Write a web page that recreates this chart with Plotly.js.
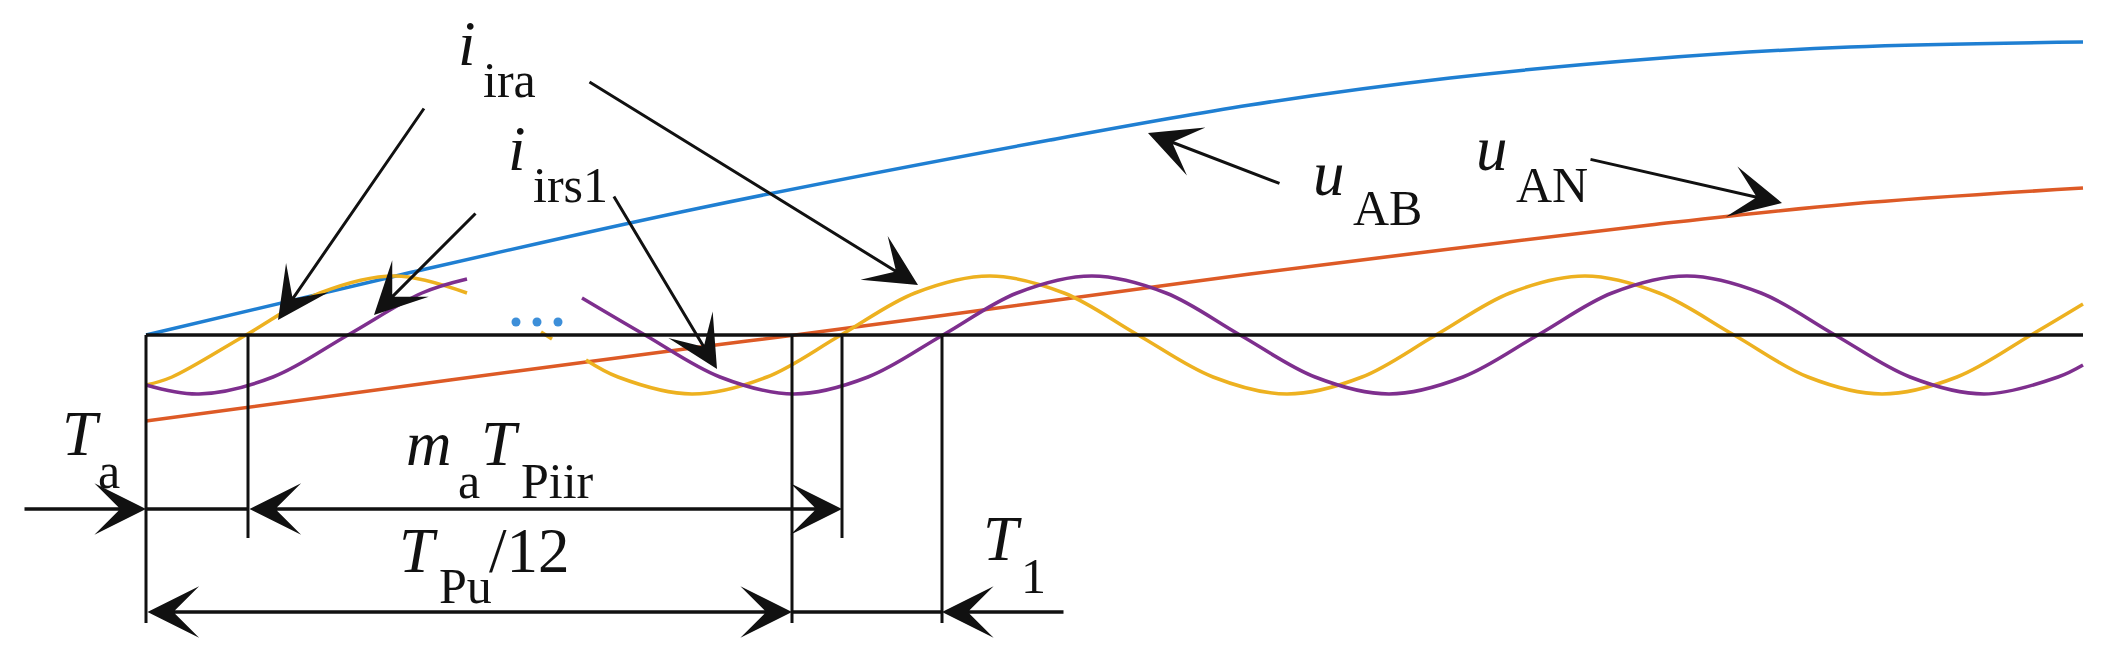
<!DOCTYPE html>
<html>
<head>
<meta charset="utf-8">
<script src="https://cdn.plot.ly/plotly-3.0.1.min.js"></script>
<style>
  html, body { margin: 0; padding: 0; background: #ffffff; }
  #chart { width: 2103px; height: 672px; }
</style>
</head>
<body>
<div id="chart"></div>
<script>
// ---- data (x: time position, y: amplitude relative to the reference axis) ----
const uABx = [146, 400, 700, 1050, 1250, 1450, 1650, 1850, 2083];
const uABy = [0, 60, 127, 195, 230, 257, 276, 288, 293];

const uANx = [146, 450, 700, 795, 1050, 1250, 1450, 1650, 1850, 2083];
const uANy = [-86, -45, -12, 0, 34, 61, 86, 110, 131, 147];

const iraX1 = [146, 172, 246, 320, 395, 467];
const iraY1 = [-50, -42, 0, 42, 59, 42];
const iraX2 = [586, 618, 692, 767, 841, 915, 990, 1064, 1138, 1213, 1287, 1362, 1436, 1510, 1585, 1659, 1734, 1808, 1882, 1957, 2031, 2083];
const iraY2 = [-25, -42, -59, -42, 0, 42, 59, 42, 0, -42, -59, -42, 0, 42, 59, 42, 0, -42, -59, -42, 0, 31];

const irs1X1 = [146, 199, 273, 348, 422, 467];
const irs1Y1 = [-50, -59, -42, 0, 42, 56];
const irs1X2 = [582, 645, 720, 794, 868, 943, 1017, 1092, 1166, 1240, 1315, 1389, 1463, 1538, 1612, 1687, 1761, 1835, 1910, 1984, 2058, 2083];
const irs1Y2 = [37, 0, -42, -59, -42, 0, 42, 59, 42, 0, -42, -59, -42, 0, 42, 59, 42, 0, -42, -59, -42, -30];

const strayX = [541, 552];
const strayY = [3, -4];

const ellipsisX = [516, 537, 558];
const ellipsisY = [13, 13, 13];

// time markers
const tStart = 146, tIrs = 248, tPu = 792, tPiir = 842, tEnd = 942;

const BLUE = '#1f7fd2', ORANGE = '#dd5a26', YELLOW = '#edb120', PURPLE = '#7e2f8e', INK = '#111111';

function line(x, y, color) {
  return { x: x, y: y, type: 'scatter', mode: 'lines', hoverinfo: 'skip',
           line: { color: color, width: 3.5, shape: 'spline', smoothing: 1 } };
}

const traces = [
  line(uABx, uABy, BLUE),
  line(uANx, uANy, ORANGE),
  line(iraX1, iraY1, YELLOW),
  line(iraX2, iraY2, YELLOW),
  line(strayX, strayY, YELLOW),
  line(irs1X1, irs1Y1, PURPLE),
  line(irs1X2, irs1Y2, PURPLE),
  { x: ellipsisX, y: ellipsisY, type: 'scatter', mode: 'markers', hoverinfo: 'skip',
    marker: { color: '#3d8fd9', size: 9, symbol: 'circle' } }
];

// ---- decoration: dimension lines ----
const rowA = -174, rowB = -277;
function seg(x0, y0, x1, y1, w) {
  return { type: 'line', xref: 'x', yref: 'y', x0: x0, y0: y0, x1: x1, y1: y1,
           line: { color: INK, width: w } };
}
const shapes = [
  seg(tStart, 0, 2083, 0, 3.5),
  seg(tStart, 0, tStart, -288, 3),
  seg(tIrs, 0, tIrs, -203, 3),
  seg(tPu, 0, tPu, -288, 3),
  seg(tPiir, 0, tPiir, -203, 3),
  seg(tEnd, 0, tEnd, -288, 3),
  seg(tStart, rowA, tIrs, rowA, 3.5),
  seg(tPu, rowB, tEnd, rowB, 3.5)
];

function arrow(x, y, ax, ay, both, w) {
  const width = w || 3.5;
  const size = 8.6 / width;
  const a = { x: x, y: y, ax: ax, ay: ay, xref: 'x', yref: 'y', axref: 'x', ayref: 'y',
              text: '', showarrow: true, arrowhead: 3, arrowsize: size, arrowwidth: width,
              arrowcolor: INK, standoff: 0, startstandoff: 0 };
  if (both) { a.arrowside = 'end+start'; a.startarrowhead = 3; a.startarrowsize = size; }
  return a;
}

function txt(x, y, text, size) {
  return { x: x, y: y, xref: 'x', yref: 'y', text: text, showarrow: false,
           xanchor: 'left', yanchor: 'middle', borderpad: 0,
           font: { family: 'Liberation Serif, Times New Roman, serif', size: size, color: INK } };
}

const MAIN = 63, SUB = 50;
const annotations = [
  // dimension arrows
  arrow(tStart, rowA, 23, rowA, false),
  arrow(tPiir, rowA, tIrs, rowA, true),
  arrow(tPu, rowB, tStart, rowB, true),
  arrow(tEnd, rowB, 1065, rowB, false),
  // label pointers
  arrow(278, 15, 425, 228, false, 3),
  arrow(374, 20, 477, 123, false, 3),
  arrow(918, 50, 588, 254, false, 3),
  arrow(717, -34, 613, 140, false, 3),
  arrow(1148, 202, 1281, 151, false, 3),
  arrow(1782, 132, 1589, 176, false, 3),
  // labels
  txt(457, 291, '<i>i</i>', MAIN), txt(482, 255, 'ira', SUB),
  txt(507, 186, '<i>i</i>', MAIN), txt(532, 150, 'irs1', SUB),
  txt(1312, 161, '<i>u</i>', MAIN), txt(1352, 127, 'AB', SUB),
  txt(1475, 186, '<i>u</i>', MAIN), txt(1515, 150, 'AN', SUB),
  txt(61, -99, '<i>T</i>', MAIN), txt(97, -136, 'a', SUB),
  txt(405, -109, '<i>m</i>', MAIN), txt(457, -146, 'a', SUB),
  txt(480, -109, '<i>T</i>', MAIN), txt(520, -146, 'Piir', SUB),
  txt(398, -216, '<i>T</i>', MAIN), txt(488, -216, '/12', MAIN), txt(438, -251, 'Pu', SUB),
  txt(982, -204, '<i>T</i>', MAIN), txt(1020, -241, '1', SUB)
];

const layout = {
  width: 2103, height: 672,
  margin: { l: 0, r: 0, t: 0, b: 0, pad: 0 },
  paper_bgcolor: '#ffffff', plot_bgcolor: '#ffffff',
  showlegend: false,
  xaxis: { range: [0, 2103], visible: false, fixedrange: true },
  yaxis: { range: [-337, 335], visible: false, fixedrange: true },
  shapes: shapes,
  annotations: annotations
};

Plotly.newPlot('chart', traces, layout, { staticPlot: true, displayModeBar: false });
</script>
</body>
</html>
